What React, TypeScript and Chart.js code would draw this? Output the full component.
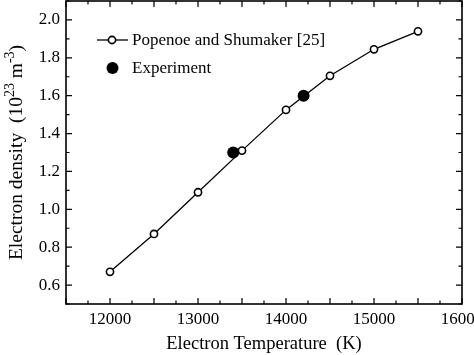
import React, { useEffect, useRef } from "react";
import { Chart, registerables } from "chart.js";

Chart.register(...registerables);

// Data
const modelTemps = [12000, 12500, 13000, 13500, 14000, 14500, 15000, 15500];
const modelDensity = [0.67, 0.87, 1.09, 1.31, 1.525, 1.705, 1.845, 1.94];
const expTemps = [13400, 14200];
const expDensity = [1.30, 1.60];

const xTickLabels = [12000, 13000, 14000, 15000, 16000];
const yTickLabels = [0.6, 0.8, 1.0, 1.2, 1.4, 1.6, 1.8, 2.0];
const xMin = 11500, xMax = 16000, xMinorStep = 250, xMajorStep = 500;
const yMin = 0.5, yMax = 2.1, yMinorStep = 0.1, yMajorStep = 0.2;

const legendModel = "Popenoe and Shumaker [25]";
const legendExp = "Experiment";
const xTitle = "Electron Temperature  (K)";
// y title pieces: [text, isSuperscript]
const yTitleParts: [string, boolean][] = [
  ["Electron density  (10", false],
  ["23", true],
  [" m", false],
  ["-3", true],
  [")", false],
];

const FONT = "'Liberation Serif', 'Times New Roman', serif";

const framePlugin = {
  id: "frameTicks",
  afterDatasetsDraw(chart: any) {
    const { ctx, chartArea } = chart;
    const { left, right, top, bottom } = chartArea;
    const xs = chart.scales.x;
    const ys = chart.scales.y;
    ctx.save();
    ctx.strokeStyle = "#000";
    ctx.lineWidth = 1.6;
    ctx.strokeRect(left, top, right - left, bottom - top);
    ctx.lineWidth = 1.2;
    ctx.beginPath();
    const nx = Math.round((xMax - xMin) / xMinorStep);
    for (let i = 0; i <= nx; i++) {
      const v = xMin + i * xMinorStep;
      const major = Math.abs(v / xMajorStep - Math.round(v / xMajorStep)) < 1e-6;
      const len = major ? 6 : 3.5;
      const px = xs.getPixelForValue(v);
      ctx.moveTo(px, bottom);
      ctx.lineTo(px, bottom - len);
      ctx.moveTo(px, top);
      ctx.lineTo(px, top + len);
    }
    const ny = Math.round((yMax - yMin) / yMinorStep);
    for (let i = 0; i <= ny; i++) {
      const v = yMin + i * yMinorStep;
      const major = Math.abs(v / yMajorStep - Math.round(v / yMajorStep)) < 1e-6;
      const len = major ? 6 : 3.5;
      const py = ys.getPixelForValue(v);
      ctx.moveTo(left, py);
      ctx.lineTo(left + len, py);
      ctx.moveTo(right, py);
      ctx.lineTo(right - len, py);
    }
    ctx.stroke();

    // Legend
    const lx = left + 31;
    const ly1 = top + 39;
    const ly2 = top + 67;
    ctx.lineWidth = 1.3;
    ctx.beginPath();
    ctx.moveTo(lx, ly1);
    ctx.lineTo(lx + 31, ly1);
    ctx.stroke();
    ctx.beginPath();
    ctx.arc(lx + 15, ly1, 3.6, 0, Math.PI * 2);
    ctx.fillStyle = "#fff";
    ctx.fill();
    ctx.lineWidth = 1.6;
    ctx.stroke();
    ctx.beginPath();
    ctx.arc(lx + 15.5, ly2, 6, 0, Math.PI * 2);
    ctx.fillStyle = "#000";
    ctx.fill();
    ctx.font = `17px ${FONT}`;
    ctx.fillStyle = "#000";
    ctx.textBaseline = "middle";
    ctx.textAlign = "left";
    ctx.fillText(legendModel, lx + 35, ly1 + 1);
    ctx.fillText(legendExp, lx + 35, ly2 + 1);

    // Y axis title with superscripts
    const mainFont = `19.5px ${FONT}`;
    const supFont = `14px ${FONT}`;
    let total = 0;
    for (const [t, sup] of yTitleParts) {
      ctx.font = sup ? supFont : mainFont;
      total += ctx.measureText(t).width;
    }
    const cy = (top + bottom) / 2;
    ctx.translate(21.5, cy);
    ctx.rotate(-Math.PI / 2);
    ctx.textBaseline = "alphabetic";
    ctx.textAlign = "left";
    let pos = -total / 2;
    for (const [t, sup] of yTitleParts) {
      ctx.font = sup ? supFont : mainFont;
      ctx.fillText(t, pos, sup ? -8 : 0);
      pos += ctx.measureText(t).width;
    }
    ctx.restore();
  },
};

export default function App() {
  const ref = useRef<HTMLCanvasElement | null>(null);
  useEffect(() => {
    if (!ref.current) return;
    const chart = new Chart(ref.current, {
      type: "scatter",
      data: {
        datasets: [
          {
            label: legendModel,
            data: modelTemps.map((t, i) => ({ x: t, y: modelDensity[i] })),
            showLine: true,
            borderColor: "#000",
            borderWidth: 1.3,
            pointRadius: 3.6,
            pointBorderWidth: 1.6,
            pointBackgroundColor: "#fff",
            pointBorderColor: "#000",
          },
          {
            label: legendExp,
            data: expTemps.map((t, i) => ({ x: t, y: expDensity[i] })),
            showLine: false,
            pointRadius: 6,
            pointBorderWidth: 0,
            pointBackgroundColor: "#000",
            pointBorderColor: "#000",
          },
        ],
      },
      options: {
        responsive: false,
        animation: false,
        layout: { autoPadding: false, padding: { left: 0, right: 12, top: 1, bottom: 0 } },
        plugins: { legend: { display: false }, tooltip: { enabled: false } },
        scales: {
          x: {
            type: "linear",
            min: xMin,
            max: xMax,
            grid: { display: false, drawTicks: false },
            border: { display: false },
            afterBuildTicks: (s: any) => {
              s.ticks = xTickLabels.map((v) => ({ value: v }));
            },
            afterFit: (s: any) => {
              s.height = 51;
              s.paddingLeft = 0;
              s.paddingRight = 0;
            },
            ticks: {
              color: "#000",
              padding: 5,
              maxRotation: 0,
              font: { family: FONT, size: 17 },
              callback: (v: any) => String(v),
            },
            title: {
              display: true,
              text: xTitle,
              color: "#000",
              font: { family: FONT, size: 18.5 },
              padding: { top: 0, bottom: 0 },
            },
          },
          y: {
            type: "linear",
            min: yMin,
            max: yMax,
            grid: { display: false, drawTicks: false },
            border: { display: false },
            afterBuildTicks: (s: any) => {
              s.ticks = yTickLabels.map((v) => ({ value: v }));
            },
            afterFit: (s: any) => {
              s.width = 66;
              s.paddingTop = 0;
              s.paddingBottom = 0;
            },
            ticks: {
              color: "#000",
              padding: 6,
              font: { family: FONT, size: 17 },
              callback: (v: any) => Number(v).toFixed(1),
            },
            title: { display: false },
          },
        },
      },
      plugins: [framePlugin],
    });
    return () => chart.destroy();
  }, []);
  return (
    <div style={{ position: "fixed", left: 0, top: 0, width: 474, height: 355, background: "#fff" }}>
      <canvas ref={ref} width={474} height={355} style={{ width: 474, height: 355 }} />
    </div>
  );
}
